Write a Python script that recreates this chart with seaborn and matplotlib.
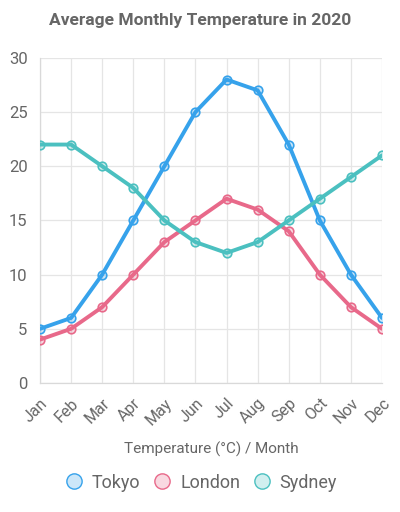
import matplotlib
matplotlib.use("Agg")
import matplotlib.pyplot as plt
import seaborn as sns
import pandas as pd
from matplotlib.lines import Line2D
from matplotlib.colors import to_rgba

months = ["Jan", "Feb", "Mar", "Apr", "May", "Jun", "Jul", "Aug", "Sep", "Oct", "Nov", "Dec"]
tokyo = [5, 6, 10, 15, 20, 25, 28, 27, 22, 15, 10, 6]
london = [4, 5, 7, 10, 13, 15, 17, 16, 14, 10, 7, 5]
sydney = [22, 22, 20, 18, 15, 13, 12, 13, 15, 17, 19, 21]
series_names = ["Tokyo", "London", "Sydney"]
y_ticks = [0, 5, 10, 15, 20, 25, 30]

colors = {"Tokyo": "#36A2EB", "London": "#E8698A", "Sydney": "#4BC0C0"}

rows = []
for name, vals in zip(series_names, [tokyo, london, sydney]):
    for i, v in enumerate(vals):
        rows.append({"idx": i, "month": months[i], "temp": v, "city": name})
df = pd.DataFrame(rows)

sns.set_theme(style="white")
plt.rcParams["font.family"] = ["Roboto", "DejaVu Sans"]

fig = plt.figure(figsize=(4, 5.12), dpi=100)
ax = fig.add_axes([0.1, 0.252, 0.855, 0.635])

sns.lineplot(data=df, x="idx", y="temp", hue="city", hue_order=series_names,
             palette=colors, linewidth=2.8, legend=False, ax=ax, zorder=3)
for name, vals in zip(series_names, [tokyo, london, sydney]):
    c = colors[name]
    ax.scatter(range(len(months)), vals, s=38, facecolor=to_rgba(c, 0.25),
               edgecolor=c, linewidth=1.2, zorder=4)

ax.set_xlim(0, len(months) - 1)
ax.set_ylim(0, 30)
ax.set_xticks(range(len(months)))
ax.set_xticklabels(months, rotation=45, ha="right", rotation_mode="anchor",
                   color="#666666", fontsize=11.5)
ax.set_yticks(y_ticks)
ax.set_yticklabels([str(t) for t in y_ticks], color="#666666", fontsize=12)
ax.grid(True, color="#e5e5e5", linewidth=0.9)
ax.set_axisbelow(True)
for s in ["top", "right"]:
    ax.spines[s].set_visible(False)
for s in ["left", "bottom"]:
    ax.spines[s].set_color("#d9d9d9")
    ax.spines[s].set_linewidth(0.9)
ax.tick_params(axis="both", length=5, color="#e0e0e0", width=0.9, pad=4)
ax.set_xlabel("Temperature (°C) / Month", color="#666666", fontsize=11, labelpad=10)
ax.set_ylabel("")

fig.suptitle("Average Monthly Temperature in 2020", fontsize=12.5, fontweight="bold",
             color="#666666", y=0.975)

handles = [Line2D([], [], linestyle="none", marker="o", markersize=11,
                  markerfacecolor=to_rgba(colors[n], 0.25), markeredgecolor=colors[n],
                  markeredgewidth=1.0) for n in series_names]
fig.legend(handles, series_names, loc="center", bbox_to_anchor=(0.5, 0.057), ncol=3,
           frameon=False, fontsize=13, handletextpad=0.4, columnspacing=0.6,
           labelcolor="#666666", handlelength=1.2)

fig.savefig("out.png", dpi=100)
